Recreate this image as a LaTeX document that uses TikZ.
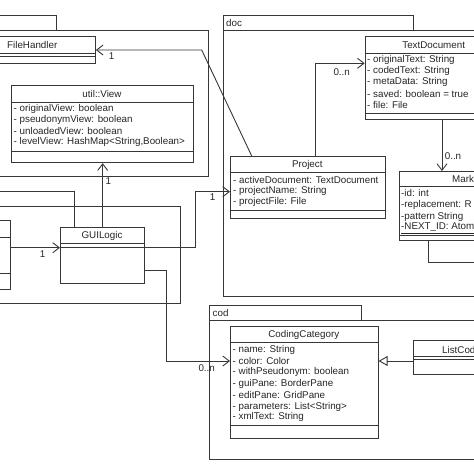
\documentclass[tikz,border=0pt]{standalone}
\usepackage{fontspec}
\setmainfont{Liberation Sans}
\usetikzlibrary{arrows.meta, positioning, calc}
\definecolor{umlgray}{RGB}{55,55,55}

\tikzset{
  umlline/.style={draw=umlgray, line width=0.9pt},
  cls/.style={umlline, fill=white, anchor=north west, inner sep=0pt},
  pkgbox/.style={umlline, anchor=north west, inner sep=0pt},
  memb/.style={anchor=west, inner sep=0pt, text=black!85},
  ttl/.style={inner sep=0pt, text=black!85},
  mult/.style={inner sep=0pt, text=black!85},
  assoc/.style={umlline, -{Straight Barb[length=6.5pt, width=10pt, line width=0.9pt]}},
  inherit/.style={umlline, -{Triangle[open, length=9pt, width=10pt, line width=0.9pt]}}
}
\newcommand{\sepline}[2]{\draw[umlline] (#1.west |- 0,#2) -- (#1.east |- 0,#2);}

\begin{document}
\begin{tikzpicture}[x=1pt, y=-1pt, font=\fontsize{9.8}{11}\selectfont]
  \useasboundingbox (0,0) rectangle (474,474);
  \clip (0,0) rectangle (474,474);
  \fill[white] (0,0) rectangle (474,474);

  % packages
  \node[pkgbox, minimum width=61pt, minimum height=15pt] (guitab) at (-5,15) {};
  \node[pkgbox, minimum width=213pt, minimum height=146pt] (guipkg) at (-5,30) {};
  \node[pkgbox, minimum width=185pt, minimum height=97.3pt] (logicpkg) at (-5,205.7) {};
  \node[pkgbox, minimum width=190pt, minimum height=15pt] (doctab) at (222.7,15) {};
  \node[pkgbox, minimum width=260pt, minimum height=265.7pt] (docpkg) at (222.7,30) {};
  \node[memb] (docname) at (226,22.8) {doc};
  \node[pkgbox, minimum width=152.3pt, minimum height=15pt] (codtab) at (209,305) {};
  \node[pkgbox, minimum width=280pt, minimum height=139pt] (codpkg) at (209,320) {};
  \node[memb] (codname) at (212.5,312.8) {cod};

  % classes
  \node[cls, minimum width=115pt, minimum height=27pt] (filehandler) at (-20,35.7) {};
  \sepline{filehandler}{53} \sepline{filehandler}{56.7}
  \node[memb] (fhname) at (7,45) {FileHandler};

  \node[cls, minimum width=182pt, minimum height=77.3pt] (umlview) at (11,85) {};
  \sepline{umlview}{102.7} \sepline{umlview}{151}
  \node[ttl] (viewname) at (102,94.3) {util::View};
  \foreach \t/\y in {- originalView: boolean/109, - pseudonymView: boolean/120,
      - unloadedView: boolean/131, - levelView: HashMap<String{,}Boolean>/141.7}{
    \node[memb] at (13.5,\y) {\t};
  }

  \node[cls, minimum width=84pt, minimum height=55.3pt] (guilogic) at (60,227.3) {};
  \sepline{guilogic}{243.3} \sepline{guilogic}{247.3}
  \node[ttl] (guiname) at (102,236) {GUILogic};

  \node[cls, minimum width=40pt, minimum height=69.3pt] (sidecls) at (-30,220) {};
  \sepline{sidecls}{237} \sepline{sidecls}{273.7}

  \node[cls, minimum width=154.7pt, minimum height=62.3pt] (project) at (230,156) {};
  \sepline{project}{172.3} \sepline{project}{210}
  \node[ttl] (projname) at (307.3,165) {Project};
  \foreach \t/\y in {- activeDocument: TextDocument/180, - projectName: String/191,
      - projectFile: File/202.3}{
    \node[memb] at (233,\y) {\t};
  }

  \node[cls, minimum width=138pt, minimum height=83pt] (textdoc) at (364.7,36) {};
  \sepline{textdoc}{53.3} \sepline{textdoc}{113.3}
  \node[ttl] (tdname) at (433.7,45) {TextDocument};
  \foreach \t/\y in {- originalText: String/60, - codedText: String/71,
      - metaData: String/82.3, - saved: boolean = true/94, - file: File/105}{
    \node[memb] at (367,\y) {\t};
  }

  \node[cls, minimum width=100pt, minimum height=69pt] (marker) at (399.3,171) {};
  \sepline{marker}{186} \sepline{marker}{235}
  \node[memb] (markname) at (452,179.3) {Mark};
  \foreach \t/\y in {-id: int/193.3, -replacement: R/205, -pattern String/216.7,
      \underline{-NEXT\_ID: Atom}/228.3}{
    \node[memb] at (401,\y) {\t};
  }

  \node[cls, minimum width=147.7pt, minimum height=112.3pt] (codingcat) at (230,326) {};
  \sepline{codingcat}{342.3} \sepline{codingcat}{425}
  \node[ttl] (ccname) at (303.8,335) {CodingCategory};
  \foreach \t/\y in {- name: String/350, - color: Color/361,
      - withPseudonym: boolean/372.3, - guiPane: BorderPane/384,
      - editPane: GridPane/395, - parameters: List<String>/406.7,
      - xmlText: String/417.3}{
    \node[memb] at (232.5,\y) {\t};
  }

  \node[cls, minimum width=80pt, minimum height=34.3pt] (listcod) at (413,340) {};
  \sepline{listcod}{356} \sepline{listcod}{359.3}
  \node[memb] (lcname) at (442,350) {ListCod};

  % connectors
  \coordinate (fhbend) at (201.7,50);
  \draw[assoc] (project.north -| 251.7,0) -- (fhbend) -- (filehandler.east |- fhbend);
  \node[mult] at (111.7,56) {1};

  \draw[assoc] (project.north -| 315.3,0) |- (textdoc.west |- 0,63.3);
  \node[mult] at (341.7,71.7) {0..n};

  \draw[assoc] (textdoc.south -| 442,0) -- (marker.north -| 442,0);
  \node[mult] at (453,156) {0..n};

  \draw[assoc] (guilogic.north -| 102.7,0) -- (umlview.south -| 102.7,0);
  \node[mult] at (108.3,180.7) {1};

  \draw[assoc] (sidecls.east |- 0,247.7) -- (guilogic.west |- 0,247.7);
  \node[mult] at (42.7,254.3) {1};

  \draw[assoc] (guilogic.east |- 0,247.7) -- (195,247.7) -- (195,191.7) -- (project.west |- 0,191.7);
  \node[mult] at (212.7,197.3) {1};

  \draw[assoc] (guilogic.east |- 0,270) -- (166.7,270) -- (166.7,361) -- (codingcat.west |- 0,361);
  \node[mult] at (206.7,367.7) {0..n};

  \draw[inherit] (listcod.west |- 0,361) -- (codingcat.east |- 0,361);

  % lines running out of the picture
  \coordinate (offleft) at (-10,191.7);
  \draw[umlline] (offleft) -| (guilogic.north -| 74,0);
  \coordinate (offright) at (490,262.3);
  \draw[umlline] (marker.south -| 428,0) |- (offright);
\end{tikzpicture}
\end{document}
